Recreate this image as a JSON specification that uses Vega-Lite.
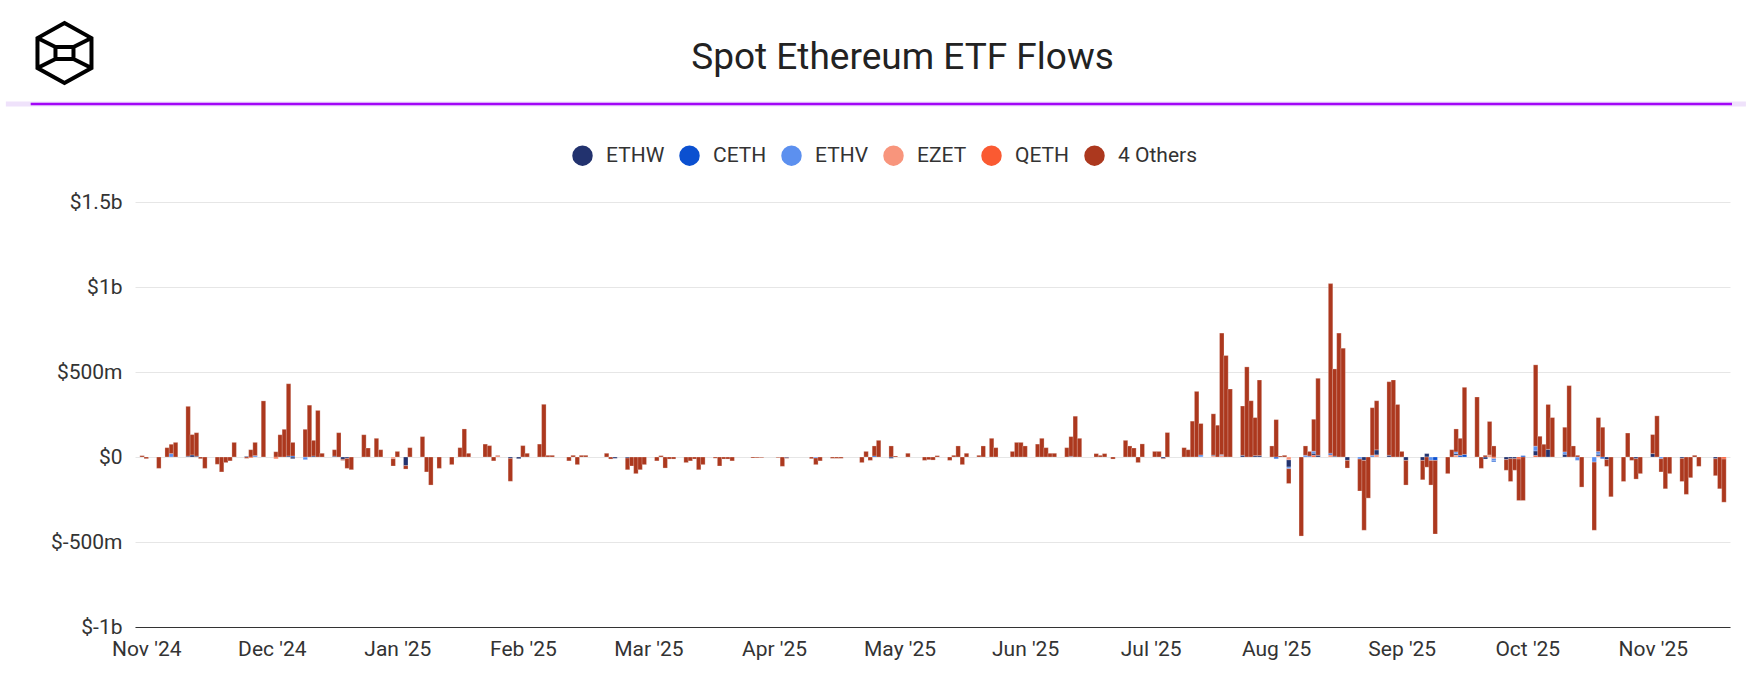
{
"$schema": "https://vega.github.io/schema/vega-lite/v6.json",
"autosize": {"type": "none"},
"width": 1595,
"height": 425,
"padding": {"left": 135, "top": 202, "right": 21, "bottom": 51},
"background": "#ffffff",
"config": {"view": {"stroke": null}, "font": "Roboto"},
"title": {"text": "Spot Ethereum ETF Flows", "anchor": "middle", "frame": "group", "font": "Roboto", "fontSize": 37, "fontWeight": "normal", "color": "#222222", "dx": -30, "offset": 0, "baseline": "alphabetic", "dy": 91},
"layer": [
{
"data": {"values": [
{"d":"2024-10-31","4 Others":8},
{"d":"2024-11-01","4 Others":-10},
{"d":"2024-11-04","4 Others":-67},
{"d":"2024-11-06","4 Others":55},
{"d":"2024-11-07","4 Others":55,"ETHV":20},
{"d":"2024-11-08","4 Others":86},
{"d":"2024-11-11","4 Others":293,"ETHW":5},
{"d":"2024-11-12","4 Others":120,"ETHW":12},
{"d":"2024-11-13","4 Others":138,"ETHW":5},
{"d":"2024-11-14","4 Others":-10},
{"d":"2024-11-15","4 Others":-67},
{"d":"2024-11-18","4 Others":-43},
{"d":"2024-11-19","4 Others":-88},
{"d":"2024-11-20","4 Others":-33},
{"d":"2024-11-21","4 Others":-23},
{"d":"2024-11-22","4 Others":86},
{"d":"2024-11-25","4 Others":-8,"ETHW":4},
{"d":"2024-11-26","4 Others":43,"QETH":-6},
{"d":"2024-11-27","4 Others":78,"ETHV":8},
{"d":"2024-11-29","4 Others":330},
{"d":"2024-12-02","4 Others":31,"QETH":-10},
{"d":"2024-12-03","4 Others":131},
{"d":"2024-12-04","4 Others":163},
{"d":"2024-12-05","4 Others":425,"ETHW":6},
{"d":"2024-12-06","4 Others":80,"CETH":6,"ETHW":-10},
{"d":"2024-12-09","4 Others":163,"ETHV":-16},
{"d":"2024-12-10","4 Others":305},
{"d":"2024-12-11","4 Others":92,"ETHW":6},
{"d":"2024-12-12","4 Others":274},
{"d":"2024-12-13","4 Others":22},
{"d":"2024-12-16","4 Others":38,"ETHW":5},
{"d":"2024-12-17","4 Others":143},
{"d":"2024-12-18","4 Others":-6,"ETHW":-14},
{"d":"2024-12-19","4 Others":-59,"ETHW":-8},
{"d":"2024-12-20","4 Others":-75},
{"d":"2024-12-23","4 Others":131},
{"d":"2024-12-24","4 Others":53},
{"d":"2024-12-26","4 Others":110},
{"d":"2024-12-27","4 Others":43},
{"d":"2024-12-30","4 Others":-43,"EZET":-10},
{"d":"2024-12-31","4 Others":33},
{"d":"2025-01-02","4 Others":-20,"ETHW":-51},
{"d":"2025-01-03","4 Others":55},
{"d":"2025-01-06","4 Others":120},
{"d":"2025-01-07","4 Others":-88},
{"d":"2025-01-08","4 Others":-165},
{"d":"2025-01-10","4 Others":-67},
{"d":"2025-01-13","4 Others":-45},
{"d":"2025-01-15","4 Others":55},
{"d":"2025-01-16","4 Others":165},
{"d":"2025-01-17","4 Others":22},
{"d":"2025-01-21","4 Others":76},
{"d":"2025-01-22","4 Others":67},
{"d":"2025-01-23","4 Others":-23},
{"d":"2025-01-24","4 Others":4,"QETH":5},
{"d":"2025-01-27","4 Others":-135,"ETHW":-8},
{"d":"2025-01-29","ETHW":-10},
{"d":"2025-01-30","4 Others":67},
{"d":"2025-01-31","4 Others":22},
{"d":"2025-02-03","4 Others":76},
{"d":"2025-02-04","4 Others":310},
{"d":"2025-02-05","4 Others":10},
{"d":"2025-02-06","4 Others":10},
{"d":"2025-02-10","4 Others":-23},
{"d":"2025-02-11","4 Others":10},
{"d":"2025-02-12","4 Others":-45},
{"d":"2025-02-13","4 Others":10},
{"d":"2025-02-14","4 Others":10},
{"d":"2025-02-19","4 Others":22},
{"d":"2025-02-20","4 Others":-12},
{"d":"2025-02-21","ETHW":-8},
{"d":"2025-02-24","4 Others":-69,"ETHW":-6},
{"d":"2025-02-25","4 Others":-53},
{"d":"2025-02-26","4 Others":-98},
{"d":"2025-02-27","4 Others":-75},
{"d":"2025-02-28","4 Others":-45},
{"d":"2025-03-03","4 Others":-23},
{"d":"2025-03-04","4 Others":8},
{"d":"2025-03-05","4 Others":-65},
{"d":"2025-03-06","4 Others":-12},
{"d":"2025-03-07","4 Others":-12},
{"d":"2025-03-10","4 Others":-33},
{"d":"2025-03-11","4 Others":-23},
{"d":"2025-03-12","4 Others":-12},
{"d":"2025-03-13","4 Others":-75},
{"d":"2025-03-14","4 Others":-45},
{"d":"2025-03-17","4 Others":-7},
{"d":"2025-03-18","4 Others":-53},
{"d":"2025-03-19","4 Others":-12},
{"d":"2025-03-20","4 Others":-12},
{"d":"2025-03-21","4 Others":-23},
{"d":"2025-03-26","4 Others":-6},
{"d":"2025-03-27","4 Others":-5},
{"d":"2025-03-28","4 Others":-4},
{"d":"2025-04-01","4 Others":-4},
{"d":"2025-04-02","4 Others":-55},
{"d":"2025-04-03","4 Others":-3,"ETHW":-5},
{"d":"2025-04-09","4 Others":-10},
{"d":"2025-04-10","4 Others":-39,"ETHV":-6},
{"d":"2025-04-11","4 Others":-23},
{"d":"2025-04-14","4 Others":-8},
{"d":"2025-04-15","4 Others":-8},
{"d":"2025-04-16","4 Others":-8},
{"d":"2025-04-21","4 Others":-33},
{"d":"2025-04-22","4 Others":33},
{"d":"2025-04-23","4 Others":-20},
{"d":"2025-04-24","4 Others":59,"CETH":6},
{"d":"2025-04-25","4 Others":98},
{"d":"2025-04-28","4 Others":65,"ETHW":-8},
{"d":"2025-04-29","4 Others":6},
{"d":"2025-05-02","4 Others":22},
{"d":"2025-05-06","4 Others":-20},
{"d":"2025-05-07","4 Others":-16},
{"d":"2025-05-08","4 Others":-18},
{"d":"2025-05-09","4 Others":8},
{"d":"2025-05-12","4 Others":-20},
{"d":"2025-05-13","4 Others":10},
{"d":"2025-05-14","4 Others":65},
{"d":"2025-05-15","4 Others":-45},
{"d":"2025-05-16","4 Others":22},
{"d":"2025-05-19","4 Others":10},
{"d":"2025-05-20","4 Others":65},
{"d":"2025-05-22","4 Others":110},
{"d":"2025-05-23","4 Others":55},
{"d":"2025-05-27","4 Others":33},
{"d":"2025-05-28","4 Others":86},
{"d":"2025-05-29","4 Others":86},
{"d":"2025-05-30","4 Others":65},
{"d":"2025-06-02","4 Others":76},
{"d":"2025-06-03","4 Others":110},
{"d":"2025-06-04","4 Others":55},
{"d":"2025-06-05","4 Others":22},
{"d":"2025-06-06","4 Others":22},
{"d":"2025-06-09","4 Others":55},
{"d":"2025-06-10","4 Others":116,"ETHW":4},
{"d":"2025-06-11","4 Others":240},
{"d":"2025-06-12","4 Others":110},
{"d":"2025-06-16","4 Others":20},
{"d":"2025-06-17","4 Others":10},
{"d":"2025-06-18","4 Others":20},
{"d":"2025-06-20","4 Others":-12},
{"d":"2025-06-23","4 Others":98},
{"d":"2025-06-24","4 Others":65},
{"d":"2025-06-25","4 Others":53},
{"d":"2025-06-26","4 Others":-33},
{"d":"2025-06-27","4 Others":77},
{"d":"2025-06-30","4 Others":33},
{"d":"2025-07-01","4 Others":33},
{"d":"2025-07-02","4 Others":-4,"ETHW":-8},
{"d":"2025-07-03","4 Others":144},
{"d":"2025-07-07","4 Others":55},
{"d":"2025-07-08","4 Others":43},
{"d":"2025-07-09","4 Others":211},
{"d":"2025-07-10","4 Others":386},
{"d":"2025-07-11","4 Others":185,"CETH":6,"ETHV":6},
{"d":"2025-07-14","4 Others":243,"ETHW":5,"EZET":6},
{"d":"2025-07-15","4 Others":187},
{"d":"2025-07-16","4 Others":715,"CETH":6,"EZET":8},
{"d":"2025-07-17","4 Others":597},
{"d":"2025-07-18","4 Others":400},
{"d":"2025-07-21","4 Others":290,"ETHW":10},
{"d":"2025-07-22","4 Others":530},
{"d":"2025-07-23","4 Others":331},
{"d":"2025-07-24","4 Others":224,"ETHW":8},
{"d":"2025-07-25","4 Others":445,"ETHW":8},
{"d":"2025-07-28","4 Others":65},
{"d":"2025-07-29","4 Others":220,"CETH":-10},
{"d":"2025-07-30","4 Others":6},
{"d":"2025-07-31","4 Others":10},
{"d":"2025-08-01","4 Others":-87,"ETHW":-43,"ETHV":-10,"EZET":-16},
{"d":"2025-08-04","4 Others":-465},
{"d":"2025-08-05","4 Others":55,"ETHV":10},
{"d":"2025-08-06","4 Others":28,"CETH":5},
{"d":"2025-08-07","4 Others":188,"ETHW":12,"ETHV":12,"QETH":10},
{"d":"2025-08-08","4 Others":453,"ETHW":10},
{"d":"2025-08-11","4 Others":998,"CETH":10,"EZET":12},
{"d":"2025-08-12","4 Others":513,"ETHW":5},
{"d":"2025-08-13","4 Others":729},
{"d":"2025-08-14","4 Others":640},
{"d":"2025-08-15","4 Others":-45,"ETHW":-20},
{"d":"2025-08-18","4 Others":-188,"ETHV":-12},
{"d":"2025-08-19","4 Others":-411,"ETHW":-20},
{"d":"2025-08-20","4 Others":-242},
{"d":"2025-08-21","4 Others":280,"ETHV":10},
{"d":"2025-08-22","4 Others":289,"ETHW":30,"EZET":12},
{"d":"2025-08-25","4 Others":433,"ETHW":10},
{"d":"2025-08-26","4 Others":453},
{"d":"2025-08-27","4 Others":309},
{"d":"2025-08-28","4 Others":33},
{"d":"2025-08-29","4 Others":-145,"ETHW":-20},
{"d":"2025-09-02","4 Others":-114,"ETHW":-20},
{"d":"2025-09-03","4 Others":-60,"ETHW":20},
{"d":"2025-09-04","4 Others":-145,"ETHV":-20},
{"d":"2025-09-05","4 Others":-433,"CETH":-20},
{"d":"2025-09-08","4 Others":-98},
{"d":"2025-09-09","4 Others":43},
{"d":"2025-09-10","4 Others":135,"ETHW":10,"ETHV":10,"EZET":10},
{"d":"2025-09-11","4 Others":100,"CETH":10},
{"d":"2025-09-12","4 Others":395,"CETH":15},
{"d":"2025-09-15","4 Others":353},
{"d":"2025-09-16","4 Others":-67},
{"d":"2025-09-17","4 Others":10,"ETHW":-12},
{"d":"2025-09-18","4 Others":197,"EZET":12},
{"d":"2025-09-19","4 Others":65,"CETH":-8,"ETHV":-12,"QETH":-8},
{"d":"2025-09-22","4 Others":-63,"ETHW":-15},
{"d":"2025-09-23","4 Others":-134,"ETHW":-10},
{"d":"2025-09-24","4 Others":-68,"ETHW":-10},
{"d":"2025-09-25","4 Others":-244,"QETH":-12},
{"d":"2025-09-26","4 Others":-256,"CETH":8},
{"d":"2025-09-29","4 Others":478,"ETHW":28,"ETHV":28,"QETH":8},
{"d":"2025-09-30","4 Others":122},
{"d":"2025-10-01","4 Others":75},
{"d":"2025-10-02","4 Others":264,"ETHW":45},
{"d":"2025-10-03","4 Others":232},
{"d":"2025-10-06","4 Others":145,"ETHW":16,"ETHV":14},
{"d":"2025-10-07","4 Others":420},
{"d":"2025-10-08","4 Others":65},
{"d":"2025-10-09","4 Others":10,"ETHV":-20},
{"d":"2025-10-10","4 Others":-177},
{"d":"2025-10-13","4 Others":-401,"ETHV":-30},
{"d":"2025-10-14","4 Others":200,"ETHW":10,"CETH":8,"ETHV":8,"EZET":6},
{"d":"2025-10-15","4 Others":175,"CETH":-10},
{"d":"2025-10-16","4 Others":-40,"ETHW":-15},
{"d":"2025-10-17","4 Others":-234},
{"d":"2025-10-20","4 Others":-144},
{"d":"2025-10-21","4 Others":141},
{"d":"2025-10-22","4 Others":-20},
{"d":"2025-10-23","4 Others":-120,"ETHW":-10},
{"d":"2025-10-24","4 Others":-98},
{"d":"2025-10-27","4 Others":112,"ETHW":20},
{"d":"2025-10-28","4 Others":242},
{"d":"2025-10-29","4 Others":-78,"ETHV":-10},
{"d":"2025-10-30","4 Others":-187},
{"d":"2025-10-31","4 Others":-98},
{"d":"2025-11-03","4 Others":-136,"ETHW":-8},
{"d":"2025-11-04","4 Others":-220},
{"d":"2025-11-05","4 Others":-122},
{"d":"2025-11-06","4 Others":10},
{"d":"2025-11-07","4 Others":-55},
{"d":"2025-11-11","4 Others":-100,"ETHW":-10},
{"d":"2025-11-12","4 Others":-187},
{"d":"2025-11-13","4 Others":-254,"QETH":-12}
]},
"transform": [
{"fold": ["ETHW","CETH","ETHV","EZET","QETH","4 Others"], "as": ["etf","flow"]},
{"filter": "isValid(datum.flow)"}
],
"mark": {"type": "bar", "size": 4.5, "stroke": "#ffffff", "strokeWidth": 0.5, "strokeOpacity": 0.5},
"encoding": {
"x": {"field": "d", "type": "temporal",
"scale": {"type": "utc", "domain": [1730289600000, 1763013600000]},
"axis": {"title": null, "values": [1730419200000, 1733011200000, 1735603200000, 1738195200000, 1740787200000, 1743379200000, 1745971200000, 1748563200000, 1751155200000, 1753747200000, 1756339200000, 1758931200000, 1761523200000], "labelExpr": "utcFormat(time(datum.value) + 1296000000, \"%b '%y\")", "grid": false, "ticks": false, "domain": true, "domainColor": "#333333", "domainWidth": 1, "labelColor": "#333333", "labelFont": "Roboto", "labelFontSize": 21, "labelPadding": 11, "labelOverlap": false, "labelFlush": false, "labelBound": false}},
"y": {"field": "flow", "type": "quantitative", "stack": "zero",
"scale": {"domain": [-1000, 1500], "nice": false},
"axis": {"title": null, "values": [-1000, -500, 0, 500, 1000, 1500], "labelExpr": "datum.value == 0 ? '$0' : (abs(datum.value) >= 1000 ? '$' + (datum.value / 1000) + 'b' : '$' + datum.value + 'm')", "domain": false, "ticks": false, "grid": true, "gridColor": "#e6e6e6", "gridWidth": 1, "labelColor": "#333333", "labelFont": "Roboto", "labelFontSize": 21, "labelPadding": 13}},
"color": {"field": "etf", "type": "nominal",
"sort": ["ETHW","CETH","ETHV","EZET","QETH","4 Others"],
"scale": {"domain": ["ETHW","CETH","ETHV","EZET","QETH","4 Others"], "range": ["#22326e","#0b50d0","#5c90ef","#f8957c","#fa5a32","#ac381e"]},
"legend": {"title": null, "orient": "none", "direction": "horizontal", "legendX": 437, "legendY": -57, "symbolType": "circle", "symbolSize": 420, "symbolStrokeWidth": 0, "symbolOpacity": 1, "labelFont": "Roboto", "labelFontSize": 21, "labelColor": "#333333", "labelOffset": 13, "columnPadding": 14}}
}
},
{
"data": {"values": [{}]},
"mark": {"type": "rule", "color": "#efe2fb", "strokeWidth": 5},
"encoding": {
"x": {"datum": 1727519772000, "type": "temporal"},
"x2": {"datum": 1763445461000},
"y": {"datum": 2076, "type": "quantitative"}
}
},
{
"data": {"values": [{}]},
"mark": {"type": "rule", "color": "#a206f7", "strokeWidth": 2.5},
"encoding": {
"x": {"datum": 1728032703000, "type": "temporal"},
"x2": {"datum": 1763158220000},
"y": {"datum": 2076, "type": "quantitative"}
}
},
{
"data": {"values": [{}]},
"mark": {"type": "point", "filled": false, "stroke": "#000000", "strokeWidth": 4, "opacity": 1, "size": 3600,
"shape": "M0,-1 L0.9,-0.5 L0.9,0.5 L0,1 L-0.9,0.5 L-0.9,-0.5 Z M-0.9,-0.5 L-0.3,-0.2 L0.3,-0.2 L0.9,-0.5 M-0.9,0.5 L-0.3,0.2 L0.3,0.2 L0.9,0.5 M-0.3,-0.2 L-0.3,0.2 M0.3,-0.2 L0.3,0.2"},
"encoding": {
"x": {"datum": 1728730289000, "type": "temporal"},
"y": {"datum": 2376, "type": "quantitative"}
}
}
]
}
